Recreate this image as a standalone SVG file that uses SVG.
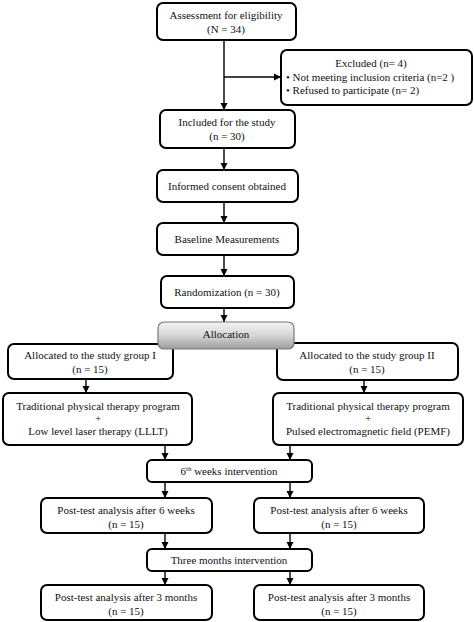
<svg xmlns="http://www.w3.org/2000/svg" width="474" height="622" viewBox="0 0 474 622">
<defs>
<marker id="ah" markerWidth="8" markerHeight="8" refX="7" refY="4" orient="auto" markerUnits="userSpaceOnUse">
<path d="M0,0.5 L7,4 L0,7.5 Z" fill="#000"/>
</marker>
<linearGradient id="grey" x1="0" y1="0" x2="0" y2="1">
<stop offset="0" stop-color="#f4f4f4"/>
<stop offset="0.5" stop-color="#d6d6d6"/>
<stop offset="1" stop-color="#9c9c9c"/>
</linearGradient>
<style>
.box{fill:#fff;stroke:#000;stroke-width:2}
.alloc{fill:url(#grey);stroke:#7a7a7a;stroke-width:1.2}
text{font-family:"Liberation Serif","Times New Roman",serif;font-size:11px;fill:#111}
.c{text-anchor:middle}
.con line{stroke:#000;stroke-width:1.4;marker-end:url(#ah)}
</style>
</defs>
<rect width="474" height="622" fill="#fff"/>

<g id="connectors" class="con">
<line x1="224" y1="40" x2="224" y2="110"/>
<line x1="224" y1="77" x2="281" y2="77"/>
<line x1="224" y1="148" x2="224" y2="170"/>
<line x1="224" y1="202" x2="224" y2="223"/>
<line x1="224" y1="255" x2="224" y2="276"/>
<line x1="224" y1="308" x2="224" y2="322"/>
<line x1="86" y1="379" x2="86" y2="393"/>
<line x1="364" y1="380" x2="364" y2="393"/>
<line x1="165" y1="445" x2="165" y2="460"/>
<line x1="290" y1="445" x2="290" y2="460"/>
<line x1="165" y1="482" x2="165" y2="498"/>
<line x1="290" y1="482" x2="290" y2="498"/>
<line x1="165" y1="533" x2="165" y2="549"/>
<line x1="290" y1="533" x2="290" y2="549"/>
<line x1="165" y1="571" x2="165" y2="585"/>
<line x1="290" y1="571" x2="290" y2="585"/>
</g>

<g id="assessment">
<rect class="box" x="157" y="3" width="139" height="37" rx="6"/>
<text class="c" x="226" y="19">Assessment for eligibility</text>
<text class="c" x="226" y="33">(N = 34)</text>
</g>

<g id="excluded">
<rect class="box" x="281" y="50" width="191" height="55" rx="6"/>
<text class="c" x="371" y="67">Excluded (n= 4)</text>
<text x="286" y="81">• Not meeting inclusion criteria (n=2 )</text>
<text x="286" y="94">• Refused to participate (n= 2)</text>
</g>

<g id="included">
<rect class="box" x="160" y="110" width="135" height="38" rx="6"/>
<text class="c" x="227" y="126">Included for  the study</text>
<text class="c" x="227" y="140">(n = 30)</text>
</g>

<g id="consent">
<rect class="box" x="157" y="170" width="141" height="32" rx="6"/>
<text class="c" x="227" y="190">Informed consent obtained</text>
</g>

<g id="baseline">
<rect class="box" x="157" y="223" width="141" height="32" rx="6"/>
<text class="c" x="227" y="243">Baseline Measurements</text>
</g>

<g id="randomization">
<rect class="box" x="161" y="276" width="133" height="32" rx="6"/>
<text class="c" x="227" y="296">Randomization (n = 30)</text>
</g>

<g id="group1">
<rect class="box" x="8" y="344" width="165" height="35" rx="6"/>
<text class="c" x="90" y="359">Allocated to the study group I</text>
<text class="c" x="90" y="373">(n = 15)</text>
</g>

<g id="group2">
<rect class="box" x="277" y="343" width="181" height="37" rx="6"/>
<text class="c" x="367" y="359">Allocated to the study group II</text>
<text class="c" x="367" y="373">(n = 15)</text>
</g>

<g id="allocation">
<rect class="alloc" x="158" y="322" width="136" height="27" rx="6"/>
<text class="c" x="226" y="338">Allocation</text>
</g>

<g id="therapy1">
<rect class="box" x="3" y="393" width="189" height="52" rx="6"/>
<text class="c" x="98" y="410">Traditional physical therapy program</text>
<text class="c" x="98" y="422">+</text>
<text class="c" x="98" y="435">Low level laser therapy (LLLT)</text>
</g>

<g id="therapy2">
<rect class="box" x="273" y="393" width="190" height="52" rx="6"/>
<text class="c" x="368" y="410">Traditional physical therapy program</text>
<text class="c" x="368" y="422">+</text>
<text class="c" x="368" y="435">Pulsed electromagnetic field (PEMF)</text>
</g>

<g id="sixweeks">
<rect class="box" x="147" y="460" width="165" height="22" rx="5"/>
<text class="c" x="229" y="475">6<tspan font-size="7" dy="-4">th</tspan><tspan dy="4"> weeks intervention</tspan></text>
</g>

<g id="post6a">
<rect class="box" x="41" y="498" width="171" height="35" rx="6"/>
<text class="c" x="126" y="514">Post-test analysis after 6 weeks</text>
<text class="c" x="126" y="528">(n = 15)</text>
</g>

<g id="post6b">
<rect class="box" x="254" y="498" width="170" height="35" rx="6"/>
<text class="c" x="339" y="514">Post-test analysis after 6 weeks</text>
<text class="c" x="339" y="528">(n = 15)</text>
</g>

<g id="threemonths">
<rect class="box" x="147" y="549" width="165" height="22" rx="5"/>
<text class="c" x="229" y="564">Three months intervention</text>
</g>

<g id="post3a">
<rect class="box" x="41" y="585" width="171" height="35" rx="6"/>
<text class="c" x="126" y="601">Post-test analysis after 3 months</text>
<text class="c" x="126" y="615">(n = 15)</text>
</g>

<g id="post3b">
<rect class="box" x="254" y="585" width="170" height="35" rx="6"/>
<text class="c" x="339" y="601">Post-test analysis after 3 months</text>
<text class="c" x="339" y="615">(n = 15)</text>
</g>
</svg>
